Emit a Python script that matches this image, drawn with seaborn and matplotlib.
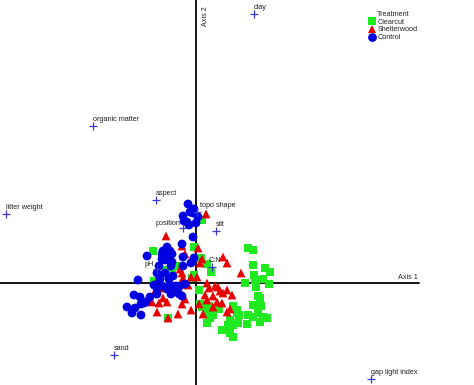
import pandas as pd
import matplotlib
matplotlib.use('Agg')
import matplotlib.pyplot as plt
import seaborn as sns

# site scores (axis 1, axis 2)
clearcut_x = [0.06, -0.43, -0.02, 0.52, 0.57, 0.05, 0.57, 0.15, 0.11, 0.69, 0.74, -0.18, -0.30,
              -0.24, 0.58, 0.59, 0.49, 0.60, 0.67, 0.73, -0.02, -0.04, -0.42, -0.33, 0.03, 0.62,
              0.64, 0.57, 0.65, 0.04, 0.06, 0.13, 0.20, 0.23, 0.37, 0.41, 0.41, 0.43, 0.11, 0.17,
              0.14, 0.52, 0.62, 0.67, 0.57, 0.64, 0.71, 0.34, 0.37, 0.32, 0.42, 0.11, 0.26, 0.34,
              0.37, 0.51, -0.28]
clearcut_y = [0.63, 0.32, 0.36, 0.35, 0.33, 0.25, 0.18, 0.11, 0.19, 0.15, 0.11, 0.17, 0.13,
              0.09, 0.08, 0.03, 0.00, -0.04, 0.04, -0.01, 0.08, 0.05, 0.02, -0.03, -0.07, -0.13,
              -0.15, -0.22, -0.23, -0.21, -0.24, -0.23, -0.25, -0.26, -0.23, -0.27, -0.30, -0.32,
              -0.29, -0.32, -0.35, -0.32, -0.30, -0.34, -0.34, -0.39, -0.35, -0.37, -0.42, -0.42,
              -0.40, -0.40, -0.47, -0.50, -0.54, -0.41, -0.35]

shelter_x = [0.10, -0.30, -0.14, 0.02, -0.11, 0.27, 0.31, 0.06, 0.04, -0.16, -0.14, 0.45, -0.05,
             0.01, -0.13, -0.08, 0.11, 0.19, 0.22, 0.13, 0.24, 0.31, 0.27, -0.40, -0.33, -0.42,
             0.09, 0.17, 0.36, -0.33, -0.44, -0.37, -0.29, -0.11, -0.14, 0.11, 0.21, 0.26, 0.03,
             0.17, -0.39, -0.18, -0.28, -0.05, 0.07, 0.31, 0.34]
shelter_y = [0.69, 0.47, 0.37, 0.35, 0.29, 0.26, 0.20, 0.24, 0.20, 0.14, 0.10, 0.10, 0.06,
             0.06, 0.05, -0.02, 0.00, -0.03, -0.04, -0.05, -0.08, -0.07, -0.10, 0.00, -0.05,
             -0.10, -0.12, -0.13, -0.12, -0.15, -0.19, -0.20, -0.19, -0.16, -0.21, -0.17, -0.19,
             -0.20, -0.21, -0.24, -0.29, -0.31, -0.35, -0.27, -0.31, -0.29, -0.26]

control_x = [-0.08, -0.04, -0.02, -0.06, -0.03, 0.02, -0.13, -0.12, -0.09, -0.07, 0.00, -0.03,
             -0.14, -0.29, -0.33, -0.26, -0.34, -0.29, -0.24, -0.49, -0.13, -0.02, -0.34, -0.31,
             -0.27, -0.24, -0.05, -0.37, -0.25, -0.13, -0.39, -0.31, -0.23, -0.36, -0.27, -0.58,
             -0.42, -0.34, -0.26, -0.20, -0.16, -0.11, -0.39, -0.29, -0.21, -0.25, -0.17, -0.14,
             -0.62, -0.56, -0.50, -0.46, -0.39, -0.69, -0.61, -0.55, -0.52, -0.64, -0.55]
control_y = [0.79, 0.74, 0.74, 0.71, 0.70, 0.66, 0.67, 0.62, 0.61, 0.58, 0.60, 0.46, 0.39,
             0.36, 0.32, 0.32, 0.29, 0.28, 0.29, 0.27, 0.26, 0.25, 0.24, 0.23, 0.23, 0.21, 0.20,
             0.17, 0.17, 0.17, 0.10, 0.10, 0.07, 0.04, 0.04, 0.03, -0.02, -0.03, -0.02, -0.03,
             -0.03, -0.01, -0.05, -0.06, -0.06, -0.11, -0.11, -0.13, -0.12, -0.14, -0.19, -0.14,
             -0.11, -0.24, -0.25, -0.21, -0.20, -0.30, -0.32]

# environmental variables (biplot tips)
env_names = ['clay', 'organic matter', 'litter weight', 'aspect', 'topo shape', 'position',
             'silt', 'C:N', 'pH', 'sand', 'gap light index']
env_x = [0.58, -1.03, -1.90, -0.40, 0.01, -0.13, 0.20, 0.16, -0.39, -0.82, 1.75]
env_y = [2.69, 1.57, 0.69, 0.83, 0.71, 0.55, 0.52, 0.16, 0.14, -0.72, -0.96]

treatments = ['Clearcut', 'Shelterwood', 'Control']
colors = {'Clearcut': '#1fea1f', 'Shelterwood': '#e80000', 'Control': '#0000e0'}
markers = {'Clearcut': 's', 'Shelterwood': '^', 'Control': 'o'}

df = pd.concat([
    pd.DataFrame({'x': clearcut_x, 'y': clearcut_y, 'Treatment': 'Clearcut'}),
    pd.DataFrame({'x': shelter_x, 'y': shelter_y, 'Treatment': 'Shelterwood'}),
    pd.DataFrame({'x': control_x, 'y': control_y, 'Treatment': 'Control'}),
], ignore_index=True)

sns.set_style('white')
plt.rcParams['font.family'] = ['Liberation Sans', 'DejaVu Sans']

fig = plt.figure(figsize=(4.74, 3.85), dpi=100)
ax = fig.add_axes([0, 0, 1, 1])

# axes through origin
ax.axhline(0, xmin=0, xmax=(2.23 + 1.96) / (2.78 + 1.96), color='black', lw=1.3, zorder=1)
ax.axvline(0, color='black', lw=1.3, zorder=1)

sns.scatterplot(data=df, x='x', y='y', hue='Treatment', style='Treatment',
                hue_order=treatments, style_order=treatments,
                palette=colors, markers=markers, s=40, linewidth=0, ax=ax, zorder=3)

# biplot crosses and labels
ax.scatter(env_x, env_y, marker='+', s=40, color='#3a3ad0', linewidths=0.9, zorder=4)
left_side = {'position', 'pH'}
for name, x, y in zip(env_names, env_x, env_y):
    if name in left_side:
        ax.annotate(name, (x, y), xytext=(-3, 1), textcoords='offset pixels',
                    ha='right', va='bottom', fontsize=5.2, color='#222222', zorder=5)
    else:
        dx = -3 if name == 'C:N' else (3 if name == 'topo shape' else 0)
        ax.annotate(name, (x, y), xytext=(dx, 3), textcoords='offset pixels',
                    ha='left', va='bottom', fontsize=5.2, color='#222222', zorder=5)

ax.text(2.22, 0.02, 'Axis 1', ha='right', va='bottom', fontsize=5.2, color='#222222')
ax.text(0.06, 2.57, 'Axis 2', rotation=90, ha='left', va='bottom', fontsize=5.2, color='#222222')

ax.set_xlim(-1.96, 2.78)
ax.set_ylim(-1.02, 2.83)
ax.axis('off')

leg = ax.legend(title='Treatment', loc='upper left', bbox_to_anchor=(365 / 474, 1 - 7 / 385),
                frameon=False, fontsize=5.2, title_fontsize=5.2, handletextpad=0.3,
                labelspacing=0.12, borderpad=0, handlelength=1, markerscale=1.0)
for t in leg.get_texts():
    t.set_color('#222222')

fig.savefig('out.png', dpi=100)
